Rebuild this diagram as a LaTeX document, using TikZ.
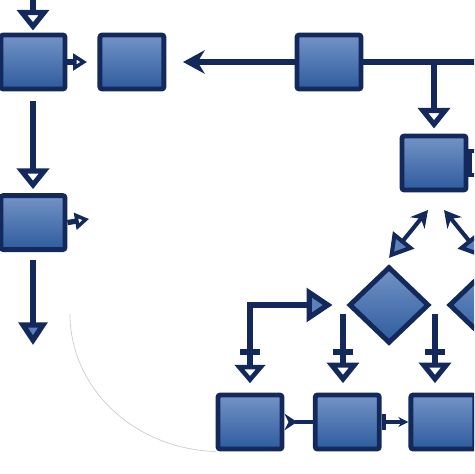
\documentclass[tikz,border=0pt]{standalone}
\usetikzlibrary{shapes.geometric,positioning,arrows.meta}
\definecolor{azulosc}{HTML}{13295B}
\definecolor{azularr}{HTML}{7393C6}
\definecolor{azulab}{HTML}{2E5C9E}
\definecolor{azulpunta}{HTML}{5C80B8}
\tikzset{
	bloque/.style={rectangle, rounded corners=2pt, draw=azulosc, line width=4.2pt,
		top color=azularr, bottom color=azulab, minimum width=1.92cm,
		minimum height=1.62cm, inner sep=0pt},
	rombo/.style={diamond, draw=azulosc, line width=4.2pt, top color=azularr,
		bottom color=azulab, minimum width=2.4cm, minimum height=2.3cm, inner sep=0pt},
	barra/.style={rectangle, fill=azulosc, minimum width=0.62cm,
		minimum height=0.2cm, inner sep=0pt},
	conector/.style={draw=azulosc, line width=4.5pt},
	abierta/.style={-{Triangle[fill=white, length=0.62cm, width=0.95cm]}},
	abiertachica/.style={-{Triangle[fill=white, length=0.42cm, width=0.5cm]}},
	rellena/.style={-{Triangle[fill=azulpunta, length=0.68cm, width=0.85cm]}},
	punta/.style={-{Stealth[length=0.65cm, width=0.7cm]}}
}
\begin{document}
\begin{tikzpicture}[x=0.3mm, y=-0.3mm]
	\useasboundingbox (0,0) rectangle (474,474);
	\clip (0,0) rectangle (474,474);
	
	% bloques de arriba
	\node[bloque] (b1) at (33,62) {};
	\node[bloque, right=0.9cm of b1] (b2) {};
	\node[bloque] (b3) at (329,62) {};
	\node[bloque] (b4) at (434,163) {};
	\node[rectangle, draw=azulosc, line width=3pt, fill=white, minimum width=0.5cm,
		minimum height=0.72cm, right=0pt of b4] (b4r) {};
	\node[bloque, below=3.05cm of b1] (b5) {};
	
	% rombos
	\node[rombo] (d1) at (389,305) {};
	\node[rombo, right=0.45cm of d1] (d2) {};
	
	% bloques de abajo
	\node[bloque] (o1) at (250,422) {};
	\node[bloque, right=0.85cm of o1] (o2) {};
	\node[bloque, right=0.8cm of o2] (o3) {};
	
	% puntos libres
	\coordinate (arriba) at (33,-10);
	\coordinate (pb1) at (87,62);
	\coordinate (pb3) at (183,62);
	\coordinate (fin3) at (490,62);
	\coordinate (pb5) at (89,219);
	\coordinate (pie5) at (33,345);
	\coordinate (s1) at (389,258);
	\coordinate (s2) at (428,210);
	\coordinate (s3) at (444,210);
	\coordinate (s4) at (483,258);
	\coordinate (c2) at (343,314);
	\coordinate (c3) at (435,314);
	\coordinate (fin6) at (490,422);
	\coordinate (arco) at (70,314);
	
	% conectores
	\draw[conector, abierta, shorten >=0.06cm] (arriba) -- (b1);
	\draw[conector, abiertachica] (b1.east) -- (pb1);
	\draw[conector, punta] (b3) -- (pb3);
	\draw[conector] (b3) -- (fin3);
	\draw[conector, abierta, shorten >=0.15cm] (b4.north |- b3.east) -- (b4);
	\draw[conector, abierta, shorten <=0.3cm, shorten >=0.12cm] (b1) -- (b5);
	\draw[conector, abiertachica] (b5.east) -- (pb5);
	\draw[conector, rellena, shorten <=0.25cm] (b5) -- (pie5);
	
	\draw[conector, line width=3.5pt, {Triangle[fill=azulpunta, length=0.7cm, width=0.8cm]}-{Stealth[length=0.5cm, width=0.55cm]}] (s1) -- (s2);
	\draw[conector, line width=3.5pt, {Stealth[length=0.5cm, width=0.55cm]}-{Triangle[fill=azulpunta, length=0.7cm, width=0.8cm]}] (s3) -- (s4);
	
	\draw[conector, {Triangle[fill=azulpunta, length=0.78cm, width=1cm]}-{Triangle[fill=white, length=0.55cm, width=0.9cm]},
		shorten <=0.42cm, shorten >=0.28cm] (d1) -| (o1);
	\draw[conector, abierta, shorten >=0.28cm] (c2) -- (c2 |- o2.north);
	\draw[conector, abierta, shorten >=0.28cm] (c3) -- (c3 |- o3.north);
	\node[barra] (x1) at (250,352) {};
	\node[barra] (x2) at (343,352) {};
	\node[barra] (x3) at (435,352) {};
	
	\draw[conector, line width=3.5pt, {Stealth[reversed, length=0.38cm, width=0.5cm]}-] (o1) -- (o2);
	\draw[conector, line width=3.5pt, {Bar[width=0.5cm]}-{Stealth[length=0.3cm, width=0.3cm]}] (o2) -- (o3);
	\draw[conector] (o3) -- (fin6);
	
	\draw[gray!40, line width=0.6pt] (arco) .. controls (70,388) and (134,449) .. (o1.south west);
\end{tikzpicture}
\end{document}
